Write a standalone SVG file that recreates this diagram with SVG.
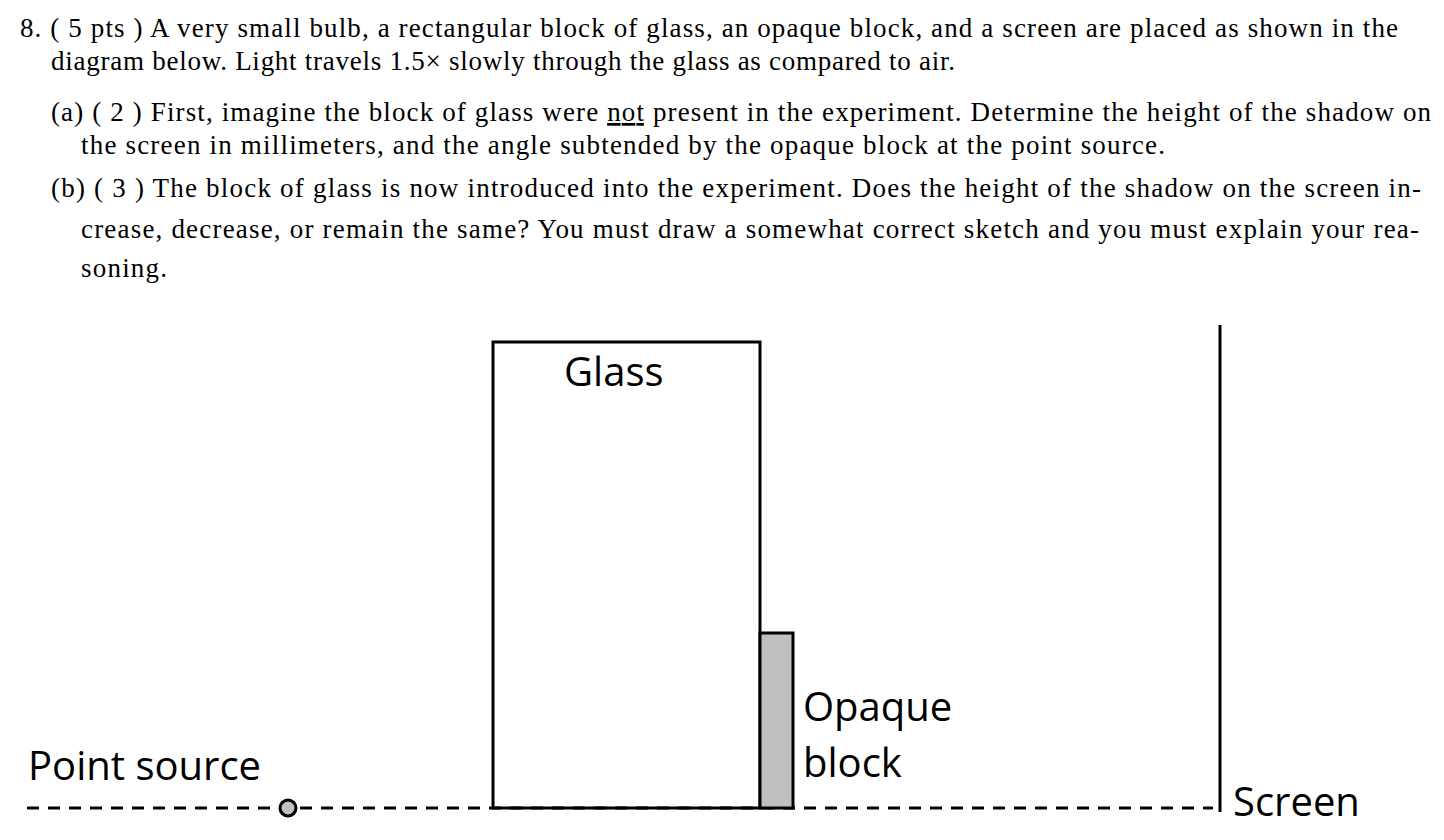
<svg xmlns="http://www.w3.org/2000/svg" width="1444" height="840" viewBox="0 0 1444 840">
<style>
.q{font-family:"Liberation Serif",serif;font-size:27px;fill:#000}
.l{font-family:"Open Sans","Noto Sans",sans-serif;font-size:40px;fill:#000}
.s{stroke:#000;stroke-width:3;fill:none}
</style>
<rect width="1444" height="840" fill="#fff"/>
<g id="question">
<text class="q" x="20" y="37" textLength="1378" lengthAdjust="spacing">8.  ( 5 pts ) A very small bulb, a rectangular block of glass, an opaque block, and a screen are placed as shown in the</text>
<text class="q" x="51" y="70" textLength="904" lengthAdjust="spacing">diagram below. Light travels 1.5× slowly through the glass as compared to air.</text>
<text class="q" x="51" y="121" textLength="1380" lengthAdjust="spacing">(a)  ( 2 ) First, imagine the block of glass were <tspan text-decoration="underline">not</tspan> present in the experiment. Determine the height of the shadow on</text>
<text class="q" x="81" y="154" textLength="1084" lengthAdjust="spacing">the screen in millimeters, and the angle subtended by the opaque block at the point source.</text>
<text class="q" x="51" y="197" textLength="1370" lengthAdjust="spacing">(b)  ( 3 ) The block of glass is now introduced into the experiment. Does the height of the shadow on the screen in-</text>
<text class="q" x="81" y="238" textLength="1338" lengthAdjust="spacing">crease, decrease, or remain the same? You must draw a somewhat correct sketch and you must explain your rea-</text>
<text class="q" x="81" y="277" textLength="86" lengthAdjust="spacing">soning.</text>
</g>
<g id="axis">
<line x1="27" y1="808" x2="1213" y2="808" stroke="#000" stroke-width="3" stroke-dasharray="12,9"/>
</g>
<g id="glass">
<rect class="s" x="493" y="342" width="267" height="466"/>
<text class="l" x="564" y="386">Glass</text>
</g>
<g id="opaque">
<rect x="760" y="633" width="33" height="175" fill="#c0c0c0" stroke="#000" stroke-width="3"/>
<text class="l" x="803" y="721">Opaque</text>
<text class="l" x="803" y="777">block</text>
</g>
<g id="screen">
<line class="s" x1="1220" y1="325" x2="1220" y2="812"/>
<text class="l" x="1233" y="816">Screen</text>
</g>
<g id="source">
<circle cx="288" cy="808" r="8" fill="#c0c0c0" stroke="#000" stroke-width="3"/>
<text class="l" x="28" y="780">Point source</text>
</g>
</svg>
